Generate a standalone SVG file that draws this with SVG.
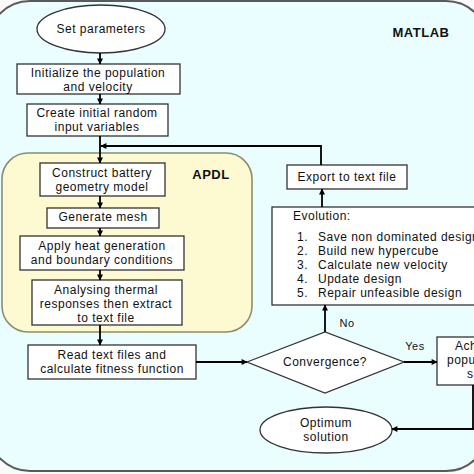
<svg xmlns="http://www.w3.org/2000/svg" width="474" height="474" viewBox="0 0 474 474">
<defs>
<marker id="ah" viewBox="0 0 10 10" refX="9" refY="5" markerWidth="7" markerHeight="6" markerUnits="userSpaceOnUse" orient="auto">
<path d="M0,0 L10,5 L0,10 z" fill="#000"/>
</marker>
</defs>
<style>
text{font-family:"Liberation Sans",Arial,sans-serif;font-size:12px;letter-spacing:0.5px;fill:#111;text-anchor:middle;dominant-baseline:central}
.b{font-weight:bold;font-size:13px}
.l{text-anchor:start}
.box{fill:#fff;stroke:#333;stroke-width:1.3}
.con{fill:none;stroke:#000;stroke-width:1.8;marker-end:url(#ah)}
.ln{fill:none;stroke:#000;stroke-width:1.8}
</style>
<rect x="0" y="0" width="474" height="474" fill="#fafafa"/>
<rect id="matlab" x="-12" y="1" width="500" height="470" rx="42" fill="#eafeff" stroke="#5a5a5a" stroke-width="2"/>
<text class="b" x="421" y="32">MATLAB</text>
<g id="apdl">
<rect x="2" y="153" width="250" height="179" rx="26" fill="#fdfad2" stroke="#8c8c70" stroke-width="1.6"/>
<text class="b" x="211" y="174">APDL</text>
</g>
<g id="set">
<ellipse cx="101" cy="29" rx="64" ry="24" class="box"/>
<text x="101" y="29">Set parameters</text>
</g>
<g id="init">
<rect x="17" y="64" width="163" height="30" class="box"/>
<text x="98" y="73">Initialize the population</text>
<text x="98" y="87">and velocity</text>
</g>
<g id="create">
<rect x="27" y="104" width="141" height="32" class="box"/>
<text x="97" y="113">Create initial random</text>
<text x="97" y="127">input variables</text>
</g>
<g id="construct">
<rect x="40" y="163" width="125" height="33" class="box"/>
<text x="102" y="173">Construct battery</text>
<text x="102" y="187">geometry model</text>
</g>
<g id="mesh">
<rect x="47" y="208" width="112" height="20" class="box"/>
<text x="103" y="217">Generate mesh</text>
</g>
<g id="apply">
<rect x="20" y="236" width="164" height="34" class="box"/>
<text x="102" y="246">Apply heat generation</text>
<text x="102" y="260">and boundary conditions</text>
</g>
<g id="analyse">
<rect x="32" y="280" width="150" height="45" class="box"/>
<text x="106" y="290">Analysing thermal</text>
<text x="106" y="304">responses then extract</text>
<text x="106" y="318">to text file</text>
</g>
<g id="read">
<rect x="28" y="345" width="168" height="34" class="box"/>
<text x="112" y="355">Read text files and</text>
<text x="112" y="369">calculate fitness function</text>
</g>
<g id="conv">
<path d="M247,362 L325,332 L404,362 L325,393 z" class="box"/>
<text x="325" y="362">Convergence?</text>
</g>
<g id="evolution">
<rect x="272" y="207" width="220" height="98" class="box"/>
<text class="l" x="293" y="216">Evolution:</text>
<text class="l" x="297" y="237">1.</text><text class="l" x="318" y="237">Save non dominated design</text>
<text class="l" x="297" y="251">2.</text><text class="l" x="318" y="251">Build new hypercube</text>
<text class="l" x="297" y="265">3.</text><text class="l" x="318" y="265">Calculate new velocity</text>
<text class="l" x="297" y="279">4.</text><text class="l" x="318" y="279">Update design</text>
<text class="l" x="297" y="293">5.</text><text class="l" x="318" y="293">Repair unfeasible design</text>
</g>
<g id="export">
<rect x="287" y="165" width="120" height="24" class="box"/>
<text x="347" y="177">Export to text file</text>
</g>
<g id="achieve">
<rect x="437" y="337" width="60" height="48" class="box"/>
<text class="l" x="455" y="346">Achieve</text>
<text class="l" x="447" y="360">population</text>
<text class="l" x="467" y="374">size</text>
</g>
<g id="optimum">
<ellipse cx="326" cy="430" rx="66" ry="23" class="box"/>
<text x="326" y="423">Optimum</text>
<text x="326" y="437">solution</text>
</g>
<g id="connectors">
<path d="M100,53 V64" class="con"/>
<path d="M100,94 V104" class="con"/>
<path d="M100,136 V163" class="con"/>
<path d="M100,196 V208" class="con"/>
<path d="M100,228 V236" class="con"/>
<path d="M100,270 V280" class="con"/>
<path d="M100,325 V345" class="con"/>
<path d="M196,362 H247" class="con"/>
<path d="M325,332 V305" class="con"/>
<path d="M322,207 V189" class="con"/>
<path d="M321,165 V146 H101" class="con"/>
<path d="M404,362 H437" class="con"/>
<path d="M473,385 V429 H392" class="con"/>
<text x="347" y="323" style="font-size:11px">No</text>
<text x="415" y="346" style="font-size:11px">Yes</text>
</g>
</svg>
